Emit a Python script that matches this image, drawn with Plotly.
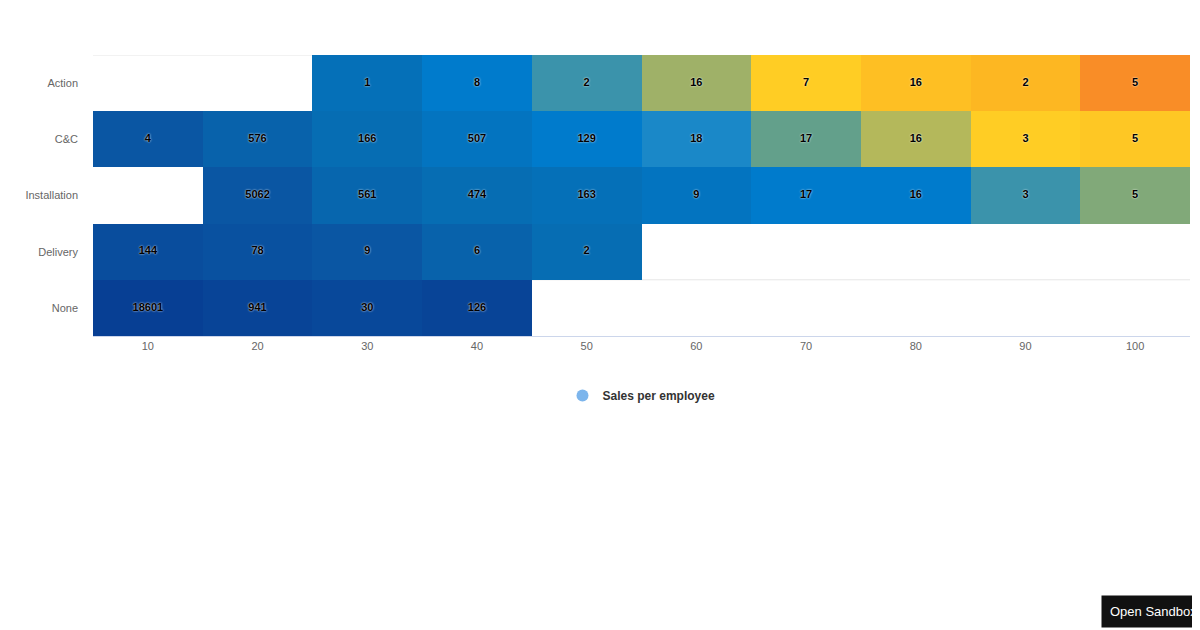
import plotly.graph_objects as go

x_vals = [10, 20, 30, 40, 50, 60, 70, 80, 90, 100]
rows = ["Action", "C&C", "Installation", "Delivery", "None"]
labels = [
    [None, None, 1, 8, 2, 16, 7, 16, 2, 5],
    [4, 576, 166, 507, 129, 18, 17, 16, 3, 5],
    [None, 5062, 561, 474, 163, 9, 17, 16, 3, 5],
    [144, 78, 9, 6, 2, None, None, None, None, None],
    [18601, 941, 30, 126, None, None, None, None, None, None],
]
intensity = [
    [None, None, 0.22, 0.30, 0.40, 0.60, 0.80, 0.85, 0.88, 1.00],
    [0.10, 0.15, 0.20, 0.25, 0.30, 0.35, 0.50, 0.70, 0.80, 0.82],
    [None, 0.10, 0.17, 0.20, 0.22, 0.25, 0.30, 0.30, 0.40, 0.55],
    [0.06, 0.08, 0.10, 0.15, 0.20, None, None, None, None, None],
    [0.00, 0.02, 0.04, 0.02, None, None, None, None, None, None],
]
scale = [[0, '#073f94'], [0.1, '#0a56a3'], [0.2, '#066db3'], [0.3, '#007bcc'],
         [0.35, '#1a88c8'], [0.4, '#3b93ab'], [0.5, '#63a08b'], [0.6, '#9fb168'],
         [0.7, '#b4b85b'], [0.8, '#ffcd24'], [0.9, '#fcb122'], [1, '#f98d27']]

yidx = list(range(len(rows)))
fig = go.Figure()
fig.add_trace(go.Heatmap(x=x_vals, y=yidx, z=intensity, colorscale=scale, zmin=0, zmax=1,
                         showscale=False, xgap=0, ygap=0, hoverinfo="skip", showlegend=False))
tx, ty, tt = [], [], []
for j, r in enumerate(labels):
    for i, v in enumerate(r):
        if v is not None:
            tx.append(x_vals[i]); ty.append(j); tt.append(str(v))
fig.add_trace(go.Scatter(x=tx, y=ty, text=tt, mode="text", showlegend=False, hoverinfo="skip",
                         textfont=dict(family="Liberation Sans, Arial", size=11, color="#000",
                                       weight="bold", shadow="0px 0px 2px #fff")))
fig.add_trace(go.Scatter(x=[None], y=[None], mode="markers", name="Sales per employee",
                         marker=dict(color="#7cb5ec", size=12)))
fig.update_layout(
    width=1200, height=630, paper_bgcolor="white", plot_bgcolor="white",
    margin=dict(l=85, r=18, t=47, b=302),
    font=dict(family="Liberation Sans, Arial", size=11, color="#666"),
    xaxis=dict(range=[5, 105], tickvals=x_vals, showgrid=False, zeroline=False,
               showline=True, linecolor="#ccd6eb", ticks="", ticklen=0),
    yaxis=dict(range=[4.5, -0.5], tickvals=yidx, ticktext=rows, showgrid=False,
               zeroline=False, ticks="", ticklabelstandoff=14),
    legend=dict(orientation="h", x=0.5, xanchor="center", y=-0.16, yanchor="top",
                font=dict(size=12, color="#333", weight="bold")),
    shapes=[dict(type="line", xref="paper", yref="y", x0=0, x1=1, y0=b, y1=b,
                 line=dict(color="#e6e6e6", width=1), layer="below") for b in [-0.5, 3.5]],
    annotations=[dict(text="Open Sandbox", xref="paper", yref="paper", x=1.015, y=-1.04,
                      xanchor="right", yanchor="bottom", showarrow=False,
                      font=dict(color="white", size=13), bgcolor="#111", borderpad=8)],
)
fig.write_html("out.html")
